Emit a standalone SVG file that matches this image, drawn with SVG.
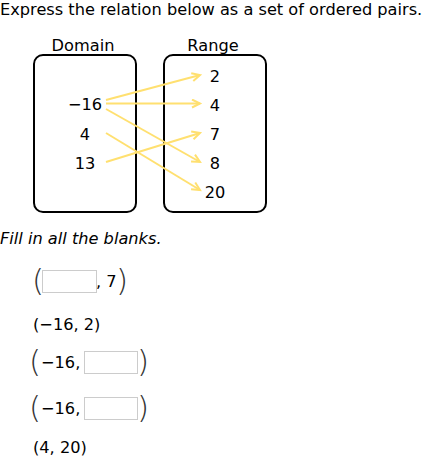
<svg xmlns="http://www.w3.org/2000/svg" width="427" height="460" viewBox="0 0 427 460">
<defs>
<style>
text{font-family:"DejaVu Sans",Verdana,sans-serif;font-size:16.2px;fill:#000}
.c{text-anchor:middle}
.box{fill:#fff;stroke:#000;stroke-width:2}
.arr{stroke:#FFE070;stroke-width:2;fill:none;marker-end:url(#ah)}
.inp{fill:#fff;stroke:#ccc;stroke-width:1}
.par{font-family:"DejaVu Sans",sans-serif;font-size:31px;font-weight:200;fill:#333}
</style>
<marker id="ah" markerUnits="userSpaceOnUse" markerWidth="12" markerHeight="12" refX="9" refY="5" orient="auto">
<path d="M1,1 L9,5 L1,9" fill="none" stroke="#FFE070" stroke-width="2"/>
</marker>
</defs>
<rect width="427" height="460" fill="#fff"/>
<text x="0" y="15">Express the relation below as a set of ordered pairs.</text>

<g id="domain">
<text class="c" x="83" y="51">Domain</text>
<rect class="box" x="34" y="55" width="102" height="157" rx="9"/>
<text class="c" x="85" y="110">−16</text>
<text class="c" x="85" y="140">4</text>
<text class="c" x="85" y="169">13</text>
</g>
<g id="range">
<text class="c" x="213" y="51">Range</text>
<rect class="box" x="164" y="55" width="102" height="157" rx="9"/>
<text class="c" x="215" y="82">2</text>
<text class="c" x="215" y="111">4</text>
<text class="c" x="215" y="140">7</text>
<text class="c" x="215" y="169">8</text>
<text class="c" x="215" y="198">20</text>
</g>
<g id="connectors">
<line class="arr" x1="106" y1="100" x2="200" y2="75"/>
<line class="arr" x1="106" y1="103.5" x2="200" y2="103.5"/>
<line class="arr" x1="106" y1="109" x2="200" y2="162"/>
<line class="arr" x1="106" y1="133" x2="200" y2="190"/>
<line class="arr" x1="106" y1="162" x2="200" y2="133"/>
</g>

<text x="0" y="244" font-style="italic">Fill in all the blanks.</text>

<g id="row1">
<text class="par" x="32" y="291">(</text>
<rect class="inp" x="42.5" y="270.5" width="54" height="22"/>
<text x="96" y="287">, 7</text>
<text class="par" x="116" y="291">)</text>
</g>
<text x="33" y="330">(−16, 2)</text>
<g id="row3">
<text class="par" x="29" y="372">(</text>
<text x="41" y="368">−16,</text>
<rect class="inp" x="84.5" y="351.5" width="53" height="22"/>
<text class="par" x="137" y="372">)</text>
</g>
<g id="row4">
<text class="par" x="29" y="418">(</text>
<text x="41" y="414">−16,</text>
<rect class="inp" x="84.5" y="397.5" width="53" height="22"/>
<text class="par" x="137" y="418">)</text>
</g>
<text x="33" y="453">(4, 20)</text>
</svg>
